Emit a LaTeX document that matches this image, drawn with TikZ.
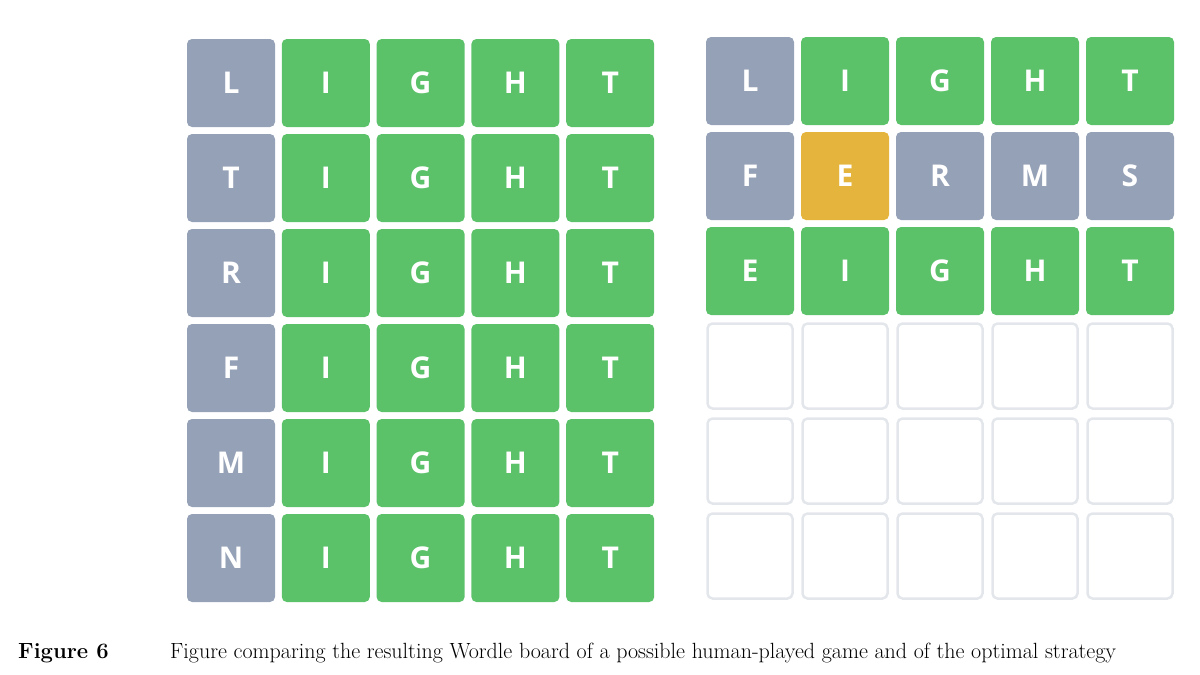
\documentclass[tikz,border=0pt]{standalone}
\usepackage{fontspec}
\newfontfamily\tilefont{Open Sans}
\definecolor{tgray}{HTML}{95A1B6}
\definecolor{tgreen}{HTML}{5CC26A}
\definecolor{tyellow}{HTML}{E4B43C}
\definecolor{tempty}{HTML}{E3E6EB}
\tikzset{
 tile/.style={minimum width=88pt,minimum height=88pt,inner sep=0pt,rounded corners=5pt,text=white,font=\tilefont\bfseries\fontsize{30}{30}\selectfont},
 G/.style={tile,fill=tgreen},
 Y/.style={tile,fill=tyellow},
 X/.style={tile,fill=tgray},
 E/.style={tile,draw=tempty,line width=2.5pt,minimum width=85pt,minimum height=85pt}
}
\begin{document}
\begin{tikzpicture}[x=1pt,y=-1pt]
\useasboundingbox (0,0) rectangle (1200,675);
\clip (0,0) rectangle (1200,675);
% left board
\foreach \w [count=\r from 0] in {L,T,R,F,M,N}{
  \node[X] (l\r c0) at (231,{83+95*\r}) {\w};
  \foreach \c/\ch in {1/I,2/G,3/H,4/T}{
    \node[G] (l\r c\c) at ({231+94.8*\c},{83+95*\r}) {\ch};
  }
}
% right board
\def\rx#1{750+95*#1}
\node[X] (r0c0) at ({\rx{0}},81) {L};
\node[G] (r0c1) at ({\rx{1}},81) {I};
\node[G] (r0c2) at ({\rx{2}},81) {G};
\node[G] (r0c3) at ({\rx{3}},81) {H};
\node[G] (r0c4) at ({\rx{4}},81) {T};
\node[X] (r1c0) at ({\rx{0}},176) {F};
\node[Y] (r1c1) at ({\rx{1}},176) {E};
\node[X] (r1c2) at ({\rx{2}},176) {R};
\node[X] (r1c3) at ({\rx{3}},176) {M};
\node[X] (r1c4) at ({\rx{4}},176) {S};
\node[G] (r2c0) at ({\rx{0}},271) {E};
\node[G] (r2c1) at ({\rx{1}},271) {I};
\node[G] (r2c2) at ({\rx{2}},271) {G};
\node[G] (r2c3) at ({\rx{3}},271) {H};
\node[G] (r2c4) at ({\rx{4}},271) {T};
\foreach \r in {3,4,5}{
  \foreach \c in {0,...,4}{
    \node[E] (r\r c\c) at ({750+95*\c},{81+95*\r}) {};
  }
}
% caption
\node[anchor=base west,inner sep=0pt,font=\fontsize{22}{22}\selectfont\bfseries] (figlab) at (18,658) {Figure 6};
\node[anchor=base west,inner sep=0pt,font=\fontsize{22}{22}\selectfont] (cap) at (170,658) {Figure comparing the resulting Wordle board of a possible human-played game and of the optimal strategy};
\end{tikzpicture}
\end{document}
